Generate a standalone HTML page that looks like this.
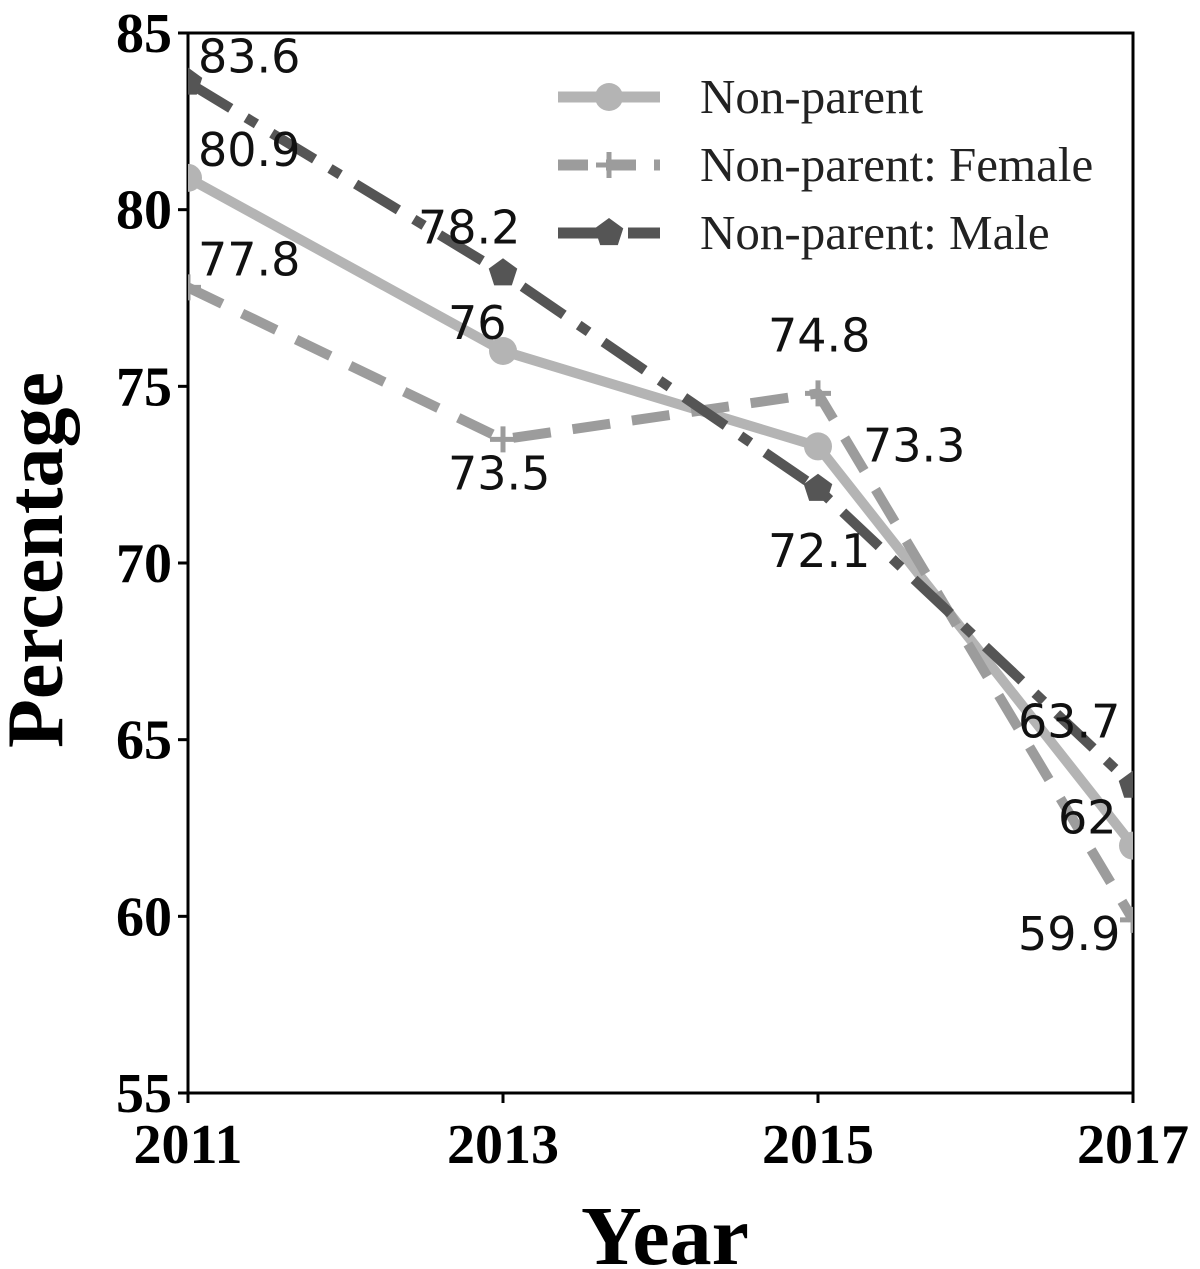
<!DOCTYPE html>
<html><head><meta charset="utf-8"><style>
html,body{margin:0;padding:0;background:#fff;}
svg{display:block;}
.tick{font-family:"Liberation Serif",serif;font-weight:bold;font-size:56px;fill:#000;}
.lbl{font-family:"DejaVu Sans",sans-serif;font-size:46px;fill:#111;}
.leg{font-family:"Liberation Serif",serif;font-size:49px;fill:#222;}
</style></head><body>
<svg id="chart" width="1200" height="1269" xmlns="http://www.w3.org/2000/svg"></svg>
<script>
const years = [2011, 2013, 2015, 2017];
const nonParent = [80.9, 76, 73.3, 62];
const female = [77.8, 73.5, 74.8, 59.9];
const male = [83.6, 78.2, 72.1, 63.7];
const yTicks = [55, 60, 65, 70, 75, 80, 85];
const xTicks = [2011, 2013, 2015, 2017];
const labelOffsets = {
  np: [[10,-12],[-55,-12],[45,15],[-75,-12]],
  f: [[10,-12],[-55,50],[-50,-42],[-115,30]],
  m: [[10,-10],[-85,-30],[-50,78],[-115,-48]]
};
const X0=188,X1=1133,Y0=1093,Y1=33;
const xs=v=>X0+(v-2011)/(2017-2011)*(X1-X0);
const ys=v=>Y0-(v-55)/(85-55)*(Y0-Y1);
const svg=document.getElementById('chart');
const NS='http://www.w3.org/2000/svg';
function mk(t,a,p){const e=document.createElementNS(NS,t);for(const k in a)e.setAttribute(k,a[k]);(p||svg).appendChild(e);return e;}
function pent(cx,cy,r){let p=[];for(let i=0;i<5;i++){const a=-Math.PI/2+i*2*Math.PI/5;p.push((cx+r*Math.cos(a))+','+(cy+r*Math.sin(a)));}return p.join(' ');}
function marker(type,cx,cy,col,p){
  let e;
  if(type==='circle') e=mk('circle',{cx,cy,r:14,fill:col},p);
  else if(type==='plus') e=mk('path',{d:`M${cx-13},${cy}H${cx+13}M${cx},${cy-13}V${cy+13}`,stroke:col,'stroke-width':5,fill:'none'},p);
  else e=mk('polygon',{points:pent(cx,cy,15),fill:col},p);
  return e;
}
const defs=mk('defs',{});
const cp=mk('clipPath',{id:'clip'},defs);
mk('rect',{x:X0,y:Y1,width:X1-X0,height:Y0-Y1},cp);
const series=[
  {key:'np',name:'Non-parent',vals:nonParent,col:'#b4b4b4',dash:'',m:'circle'},
  {key:'f',name:'Non-parent: Female',vals:female,col:'#9c9c9c',dash:'38,22',m:'plus'},
  {key:'m',name:'Non-parent: Male',vals:male,col:'#555555',dash:'50,18,12,18',m:'pent'}
];
const ax=mk('rect',{x:X0,y:Y1,width:X1-X0,height:Y0-Y1,fill:'none',stroke:'#000','stroke-width':3});


yTicks.forEach(t=>{
  const l=mk('line',{x1:X0-10,x2:X0,y1:ys(t),y2:ys(t),stroke:'#000','stroke-width':3});
  
  
  const tx=mk('text',{x:X0-16,y:ys(t)+19,'text-anchor':'end',class:'tick'});tx.textContent=t;
  
  
});
xTicks.forEach(t=>{
  const l=mk('line',{x1:xs(t),x2:xs(t),y1:Y0,y2:Y0+10,stroke:'#000','stroke-width':3});
  
  
  const tx=mk('text',{x:xs(t),y:Y0+70,'text-anchor':'middle',class:'tick'});tx.textContent=t;
  
  
});
series.forEach(s=>{
  const g=mk('g',{'clip-path':'url(#clip)'});
  
  
  const pts=s.vals.map((v,i)=>xs(years[i])+','+ys(v)).join(' ');
  const pl=mk('polyline',{points:pts,fill:'none',stroke:s.col,'stroke-width':10,'stroke-dasharray':s.dash,'stroke-linejoin':'round'},g);
  
  
  s.vals.forEach((v,i)=>{
    const m=marker(s.m,xs(years[i]),ys(v),s.col,g);
    
    
  });
});
series.forEach(s=>{
  s.vals.forEach((v,i)=>{
    const o=labelOffsets[s.key][i];
    const t=mk('text',{x:xs(years[i])+o[0],y:ys(v)+o[1],class:'lbl'});
    t.textContent=v;
    
    
  });
});
series.forEach((s,i)=>{
  const y=97+i*68;
  const g=mk('g',{});
  
  
  const l=mk('line',{x1:558,x2:660,y1:y,y2:y,stroke:s.col,'stroke-width':11,'stroke-dasharray':s.dash==''?'':(i==1?'30,18':'60,10')},g);
  
  
  const m=marker(s.m,609,y,s.col,g);
  
  
  const t=mk('text',{x:700,y:y+16,class:'leg'},g);t.textContent=s.name;
  
  
});
const yt=mk('text',{x:0,y:0,transform:'translate(62,560) rotate(-90)','text-anchor':'middle',style:'font-family:"Liberation Serif",serif;font-weight:bold;font-size:80px'});
yt.textContent='Percentage';


const xt=mk('text',{x:665,y:1264,'text-anchor':'middle',style:'font-family:"Liberation Serif",serif;font-weight:bold;font-size:84px'});
xt.textContent='Year';


</script>
</body></html>
